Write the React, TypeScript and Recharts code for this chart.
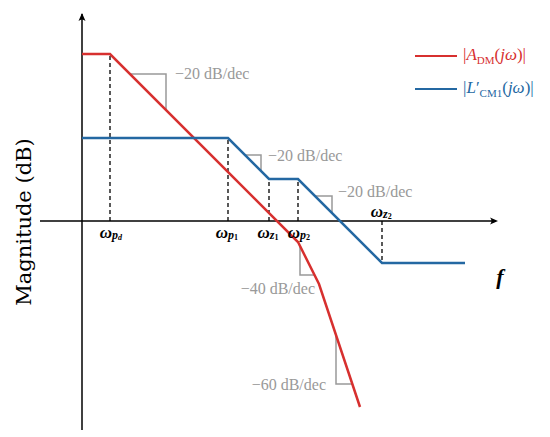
import { LineChart, Line, XAxis, YAxis, ReferenceLine, ReferenceDot, Legend } from "recharts";

// x: log frequency in decades from the magnitude axis, y: magnitude in dB
const redDecades = [0, 0.7, 5.4, 5.925, 6.95];
const redDb = [83.5, 83.5, -10.5, -31.5, -93];
const blueDecades = [0, 3.65, 4.675, 5.4, 7.5, 9.575];
const blueDb = [41.5, 41.5, 21, 21, -21, -21];

const seriesColors = ["#d7302f", "#2468a2"];

// corner frequencies
const cornerLetters = ["p", "p", "z", "p", "z"];
const cornerIndex = ["d", "1", "1", "2", "2"];
const cornerDecades = [0.7, 3.65, 4.675, 5.4, 7.5];
const cornerDashTo = [83.5, 41.5, 21, 21, -21];
const cornerLabelDecades = [0.72, 3.62, 4.65, 5.42, 7.48];
const cornerLabelDb = [-5.5, -5.5, -5.5, -5.5, 5];

// slope triangles
const slopeTriDecades = [
  [1.2, 2.1, 2.1],
  [4.075, 4.475, 4.475],
  [5.825, 6.25, 6.25],
  [5.45, 5.45, 5.81],
  [6.35, 6.35, 6.77],
];
const slopeTriDb = [
  [73.5, 73.5, 55.5],
  [33, 33, 25],
  [12.5, 12.5, 4],
  [-12.5, -27, -27],
  [-57, -81.5, -81.5],
];
const slopeLabels = ["−20 dB/dec", "−20 dB/dec", "−20 dB/dec", "−40 dB/dec", "−60 dB/dec"];
const slopeLabelDecades = [2.325, 4.65, 6.4, 5.825, 6.1];
const slopeLabelDb = [74, 33, 15, -33.5, -81.5];

const xDomain = [-2.05, 11.7];
const yDomain = [-108, 110.5];

const redData = redDecades.map((x, i) => ({ x, y: redDb[i] }));
const blueData = blueDecades.map((x, i) => ({ x, y: blueDb[i] }));
const triData = slopeTriDecades.map((xs, k) => xs.map((x, i) => ({ x, y: slopeTriDb[k][i] })));

const mathFont = "'Liberation Serif', 'Times New Roman', serif";

function LegendBox() {
  const row = (color: string, body: React.ReactNode) => (
    <div style={{ display: "flex", alignItems: "center", height: 33, color }}>
      <span style={{ display: "inline-block", width: 42, borderTop: `2.5px solid ${color}`, marginRight: 6 }} />
      <span style={{ fontFamily: mathFont, fontSize: 17, whiteSpace: "nowrap" }}>{body}</span>
    </div>
  );
  return (
    <div>
      {row(
        seriesColors[0],
        <>
          |<i>A</i>
          <sub style={{ fontSize: 11 }}>DM</sub>(<i>jω</i>)|
        </>
      )}
      {row(
        seriesColors[1],
        <>
          |<i>L</i>′<sub style={{ fontSize: 11 }}>CM1</sub>(<i>jω</i>)|
        </>
      )}
    </div>
  );
}

export default function App() {
  return (
    <div style={{ position: "absolute", left: 0, top: 0, background: "#fff" }}>
      <LineChart width={550} height={437} margin={{ top: 0, right: 0, bottom: 0, left: 0 }}>
        <XAxis type="number" dataKey="x" domain={xDomain} hide allowDataOverflow />
        <YAxis type="number" domain={yDomain} hide allowDataOverflow />
        <Legend
          layout="vertical"
          align="center"
          verticalAlign="middle"
          content={() => <LegendBox />}
          wrapperStyle={{ position: "absolute", left: 415, top: 39, width: 140 }}
        />

        {/* axes */}
        <ReferenceLine segment={[{ x: -1.05, y: 0 }, { x: 10.35, y: 0 }]} stroke="#000" strokeWidth={1.5} ifOverflow="visible" />
        <ReferenceLine segment={[{ x: 0, y: -104.5 }, { x: 0, y: 103.5 }]} stroke="#000" strokeWidth={1.5} ifOverflow="visible" />
        <ReferenceDot
          x={0}
          y={104}
          ifOverflow="visible"
          shape={(p: any) => (
            <path d={`M${p.cx},${p.cy} L${p.cx - 3.5},${p.cy + 8} Q${p.cx},${p.cy + 5} ${p.cx + 3.5},${p.cy + 8} Z`} fill="#000" />
          )}
        />
        <ReferenceDot
          x={10.4}
          y={0}
          ifOverflow="visible"
          shape={(p: any) => (
            <path d={`M${p.cx},${p.cy} L${p.cx - 8},${p.cy - 3.5} Q${p.cx - 5},${p.cy} ${p.cx - 8},${p.cy + 3.5} Z`} fill="#000" />
          )}
        />

        {/* corner frequency guides */}
        {cornerDecades.map((x, i) => (
          <ReferenceLine
            key={"d" + i}
            segment={[{ x, y: 0 }, { x, y: cornerDashTo[i] }]}
            stroke="#000"
            strokeWidth={1.3}
            strokeDasharray="4 3"
            ifOverflow="visible"
          />
        ))}
        {cornerDecades.map((_, i) => (
          <ReferenceDot
            key={"w" + i}
            x={cornerLabelDecades[i]}
            y={cornerLabelDb[i]}
            ifOverflow="visible"
            shape={(p: any) => (
              <text
                x={p.cx}
                y={p.cy}
                textAnchor="middle"
                dominantBaseline="central"
                fontFamily={mathFont}
                fontWeight="bold"
                fontStyle="italic"
                fontSize={17}
                fill="#000"
              >
                <tspan>ω</tspan>
                <tspan fontSize={12} dy={3}>{cornerLetters[i]}</tspan>
                <tspan fontSize={8} dy={2} fontStyle={cornerIndex[i] === "d" ? "italic" : "normal"}>
                  {cornerIndex[i]}
                </tspan>
              </text>
            )}
          />
        ))}

        {/* slope triangles */}
        {triData.map((d, k) => (
          <Line
            key={"t" + k}
            data={d}
            dataKey="y"
            type="linear"
            stroke="#999"
            strokeWidth={1.5}
            dot={false}
            activeDot={false}
            legendType="none"
            isAnimationActive={false}
          />
        ))}
        {slopeLabels.map((t, i) => (
          <ReferenceDot
            key={"s" + i}
            x={slopeLabelDecades[i]}
            y={slopeLabelDb[i]}
            ifOverflow="visible"
            shape={(p: any) => (
              <text
                x={p.cx}
                y={p.cy}
                textAnchor={i >= 3 ? "end" : "start"}
                dominantBaseline="central"
                fontFamily={mathFont}
                fontSize={16}
                fill="#999"
              >
                {t}
              </text>
            )}
          />
        ))}

        <Line data={redData} dataKey="y" type="linear" stroke={seriesColors[0]} strokeWidth={2.5} dot={false} activeDot={false} isAnimationActive={false} />
        <Line data={blueData} dataKey="y" type="linear" stroke={seriesColors[1]} strokeWidth={2.5} dot={false} activeDot={false} isAnimationActive={false} />

        {/* f label */}
        <ReferenceDot
          x={10.45}
          y={-27.5}
          ifOverflow="visible"
          shape={(p: any) => (
            <text x={p.cx} y={p.cy} textAnchor="middle" dominantBaseline="central" fontFamily={mathFont} fontWeight="bold" fontStyle="italic" fontSize={22} fill="#000">
              f
            </text>
          )}
        />
      </LineChart>
      <div
        style={{
          position: "absolute",
          left: 24,
          top: 222,
          transform: "translate(-50%, -50%) rotate(-90deg)",
          fontFamily: "'DejaVu Serif', serif",
          fontSize: 21,
          whiteSpace: "nowrap",
          color: "#000",
        }}
      >
        Magnitude (dB)
      </div>
    </div>
  );
}
